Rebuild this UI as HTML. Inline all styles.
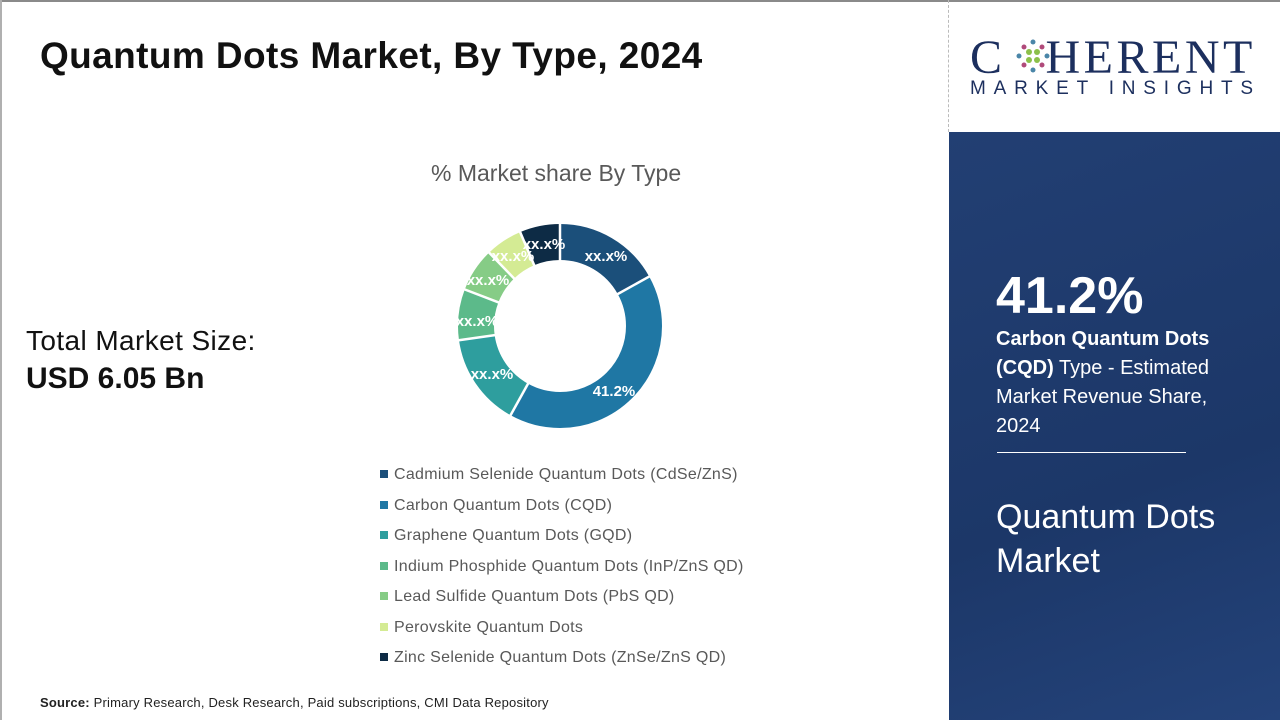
<!DOCTYPE html>
<html><head><meta charset="utf-8"><style>
body{margin:0;width:1280px;height:720px;overflow:hidden;background:#fff;font-family:"Liberation Sans",sans-serif;position:relative}
.abs{position:absolute;white-space:nowrap}
.leg{position:absolute;left:380px;font-size:16px;color:#595959;letter-spacing:0.3px}
.leg i{display:inline-block;width:8px;height:8px;margin-right:6px;vertical-align:1px}
</style></head><body>
<div class="abs" style="left:0;top:0;width:1280px;height:2px;background:#8a8a8a"></div>
<div class="abs" style="left:0;top:0;width:2px;height:720px;background:#b0b0b0"></div>
<div class="abs" style="left:948px;top:0;width:1px;height:132px;border-left:1px dashed #bbb"></div>
<div class="abs" style="left:40px;top:35px;font-size:37px;font-weight:bold;color:#111;letter-spacing:0.4px">Quantum Dots Market, By Type, 2024</div>
<div class="abs" style="left:431px;top:160px;font-size:23px;color:#595959">% Market share By Type</div>
<div class="abs" style="left:26px;top:325px;font-size:28px;color:#111;letter-spacing:0.4px">Total Market Size:</div>
<div class="abs" style="left:26px;top:362px;font-size:30px;font-weight:bold;color:#111">USD 6.05 Bn</div>

<svg class="abs" style="left:0;top:0" width="950" height="720">
<g transform="rotate(-90 560 326)" fill="none" stroke-width="36">
<circle cx="560" cy="326" r="84" stroke="#1b4f7a" stroke-dasharray="89.43 600" stroke-dashoffset="0"/>
<circle cx="560" cy="326" r="84" stroke="#1f77a4" stroke-dasharray="216.98 600" stroke-dashoffset="-89.43"/>
<circle cx="560" cy="326" r="84" stroke="#2e9e9e" stroke-dasharray="77.7 600" stroke-dashoffset="-306.41"/>
<circle cx="560" cy="326" r="84" stroke="#5cba8a" stroke-dasharray="42.52 600" stroke-dashoffset="-384.11"/>
<circle cx="560" cy="326" r="84" stroke="#86cc86" stroke-dasharray="36.65 600" stroke-dashoffset="-426.63"/>
<circle cx="560" cy="326" r="84" stroke="#d4eb94" stroke-dasharray="30.79 600" stroke-dashoffset="-463.28"/>
<circle cx="560" cy="326" r="84" stroke="#0d2b45" stroke-dasharray="33.72 600" stroke-dashoffset="-494.07"/>
</g>
<g stroke="#fff" stroke-width="2.5">
<line x1="560" y1="222" x2="560" y2="262" transform="rotate(0 560 326)"/>
<line x1="560" y1="222" x2="560" y2="262" transform="rotate(61 560 326)"/>
<line x1="560" y1="222" x2="560" y2="262" transform="rotate(209 560 326)"/>
<line x1="560" y1="222" x2="560" y2="262" transform="rotate(262 560 326)"/>
<line x1="560" y1="222" x2="560" y2="262" transform="rotate(291 560 326)"/>
<line x1="560" y1="222" x2="560" y2="262" transform="rotate(316 560 326)"/>
<line x1="560" y1="222" x2="560" y2="262" transform="rotate(337 560 326)"/>
</g>
<g fill="#fff" font-size="15" font-weight="bold" text-anchor="middle" font-family="Liberation Sans,sans-serif">
<text x="606" y="261">xx.x%</text>
<text x="614" y="396">41.2%</text>
<text x="492" y="379">xx.x%</text>
<text x="477" y="326">xx.x%</text>
<text x="488" y="285">xx.x%</text>
<text x="513" y="261">xx.x%</text>
<text x="544" y="249">xx.x%</text>
</g>
</svg>

<div class="leg" style="top:466px"><i style="background:#1b4f7a"></i>Cadmium Selenide Quantum Dots (CdSe/ZnS)</div>
<div class="leg" style="top:497px"><i style="background:#1f77a4"></i>Carbon Quantum Dots (CQD)</div>
<div class="leg" style="top:527px"><i style="background:#2e9e9e"></i>Graphene Quantum Dots (GQD)</div>
<div class="leg" style="top:558px"><i style="background:#5cba8a"></i>Indium Phosphide Quantum Dots (InP/ZnS QD)</div>
<div class="leg" style="top:588px"><i style="background:#86cc86"></i>Lead Sulfide Quantum Dots (PbS QD)</div>
<div class="leg" style="top:619px"><i style="background:#d4eb94"></i>Perovskite Quantum Dots</div>
<div class="leg" style="top:649px"><i style="background:#0d2b45"></i>Zinc Selenide Quantum Dots (ZnSe/ZnS QD)</div>
<div class="abs" style="left:40px;top:695px;font-size:13px;color:#222;letter-spacing:0.2px"><b>Source:</b> Primary Research, Desk Research, Paid subscriptions, CMI Data Repository</div>

<div class="abs" style="left:970px;top:30px;font-family:'Liberation Serif',serif;font-size:48px;color:#1c2f5e;letter-spacing:3.5px">C<span style="display:inline-block;width:40px"></span>HERENT</div>
<svg class="abs" style="left:1015px;top:38px" width="36" height="36">
<g fill="#4a86a8"><circle cx="18" cy="4" r="2.5"/><circle cx="18" cy="32" r="2.5"/><circle cx="4" cy="18" r="2.5"/><circle cx="32" cy="18" r="2.5"/><circle cx="9" cy="9" r="2.5" fill="#b04a7a"/><circle cx="27" cy="9" r="2.5" fill="#b04a7a"/><circle cx="9" cy="27" r="2.5" fill="#b04a7a"/><circle cx="27" cy="27" r="2.5" fill="#b04a7a"/></g>
<g fill="#8cc04a"><circle cx="14" cy="14" r="3"/><circle cx="22" cy="14" r="3"/><circle cx="14" cy="22" r="3"/><circle cx="22" cy="22" r="3"/></g>
</svg>
<div class="abs" style="left:970px;top:78px;font-size:19px;color:#1c2f5e;letter-spacing:7.8px">MARKET INSIGHTS</div>

<div class="abs" style="left:949px;top:132px;width:331px;height:588px;background:linear-gradient(160deg,#223f73,#1c3768 60%,#24437a)"></div>
<div class="abs" style="left:996px;top:266px;font-size:52px;font-weight:bold;color:#fff">41.2%</div>
<div class="abs" style="left:996px;top:325px;font-size:20px;line-height:29px;color:#fff;white-space:normal;width:260px"><b>Carbon Quantum Dots (CQD)</b> Type - Estimated Market Revenue Share, 2024</div>
<div class="abs" style="left:997px;top:452px;width:189px;height:1px;background:#fff"></div>
<div class="abs" style="left:996px;top:495px;font-size:34px;line-height:44px;color:#fff;white-space:normal;width:260px">Quantum Dots Market</div>
</body></html>
